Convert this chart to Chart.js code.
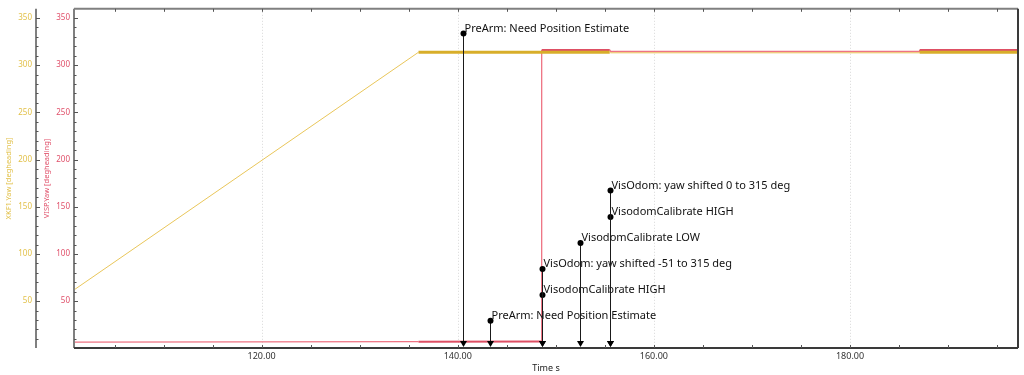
<!DOCTYPE html>
<html>
<head>
<meta charset="utf-8">
<script src="https://cdn.jsdelivr.net/npm/chart.js@4"></script>
<style>
  body { margin: 0; background: #fff; }
  canvas { display: block; }
</style>
</head>
<body>
<canvas id="yawChart" width="1024" height="375"></canvas>
<script>
// XKF1.Yaw samples (time s, deg)
const kfTimes = [100.87, 136.0, 155.5, 155.6, 187.05, 187.1, 197.13];
const kfYaw = [61.9, 313.6, 313.6, 313.0, 313.0, 313.6, 313.6];
// VISP.Yaw samples
const vispTimes = [100.87, 136.0, 148.55, 148.56, 155.5, 155.6, 187.05, 187.1, 197.13];
const vispYaw = [6.7, 7.1, 7.4, 316.0, 316.0, 314.4, 314.4, 316.0, 316.0];
// spans where the logged samples are dense (drawn heavier)
const kfDense = [[136.0, 155.5], [187.1, 197.13]];
const vispDense = [[136.0, 148.55], [148.56, 155.5], [187.1, 197.13]];

// message events
const eventTimes = [140.58, 143.34, 148.55, 148.55, 152.45, 155.5, 155.5];
const eventLevels = [333.4, 29.2, 56.6, 84.1, 111.5, 139.0, 167.3];
const eventTexts = [
  'PreArm: Need Position Estimate',
  'PreArm: Need Position Estimate',
  'VisodomCalibrate HIGH',
  'VisOdom: yaw shifted -51 to 315 deg',
  'VisodomCalibrate LOW',
  'VisodomCalibrate HIGH',
  'VisOdom: yaw shifted 0 to 315 deg'
];

const xRange = [100.87, 197.13];
const yRange = [0.4, 359.6];

const YELLOW = '#e2c14a';
const RED = '#e0506a';
const FONT = "'Noto Sans', 'DejaVu Sans', sans-serif";

function toPoints(xs, ys) {
  return xs.map((t, i) => ({ x: t, y: ys[i] }));
}

function inSpans(c, spans) {
  const a = c.p0.parsed.x, b = c.p1.parsed.x;
  return spans.some(s => a >= s[0] - 1e-6 && b <= s[1] + 1e-6);
}

// grid, frame and tick marks
const frame = {
  id: 'frame',
  beforeDatasetsDraw(chart) {
    const { ctx, chartArea: a, scales } = chart;
    ctx.save();
    ctx.strokeStyle = '#d8d8d8';
    ctx.lineWidth = 1;
    ctx.setLineDash([1, 2]);
    scales.x.ticks.forEach(t => {
      const px = Math.round(scales.x.getPixelForValue(t.value)) + 0.5;
      ctx.beginPath();
      ctx.moveTo(px, a.top);
      ctx.lineTo(px, a.bottom);
      ctx.stroke();
    });
    ctx.restore();
  },
  afterDraw(chart) {
    const { ctx, chartArea: a, scales } = chart;
    const x = scales.x, yk = scales.yKf, yv = scales.yVisp;
    ctx.save();

    // axis lines
    ctx.lineWidth = 2;
    ctx.strokeStyle = '#808080';
    ctx.beginPath();
    ctx.moveTo(yk.right, a.top); ctx.lineTo(yk.right, a.bottom);
    ctx.moveTo(a.left, a.top); ctx.lineTo(a.left, a.bottom);
    ctx.moveTo(a.left, a.top); ctx.lineTo(a.right, a.top);
    ctx.stroke();
    ctx.strokeStyle = '#3a3a3a';
    ctx.beginPath();
    ctx.moveTo(a.right, a.top); ctx.lineTo(a.right, a.bottom);
    ctx.moveTo(a.left, a.bottom); ctx.lineTo(a.right, a.bottom);
    ctx.stroke();

    // y tick marks, pointing inward
    ctx.lineWidth = 1;
    ctx.strokeStyle = '#555';
    for (let v = 10; v < yRange[1]; v += 10) {
      const len = v % 50 === 0 ? 4 : 2.5;
      const py = Math.round(yv.getPixelForValue(v)) + 0.5;
      ctx.beginPath();
      ctx.moveTo(yk.right, py); ctx.lineTo(yk.right + len, py);
      ctx.moveTo(a.left, py); ctx.lineTo(a.left + len, py);
      ctx.stroke();
    }
    // x tick marks on bottom and top
    for (let v = 105; v < xRange[1]; v += 5) {
      const px = Math.round(x.getPixelForValue(v)) + 0.5;
      ctx.beginPath();
      ctx.moveTo(px, a.bottom); ctx.lineTo(px, a.bottom - 3);
      ctx.moveTo(px, a.top); ctx.lineTo(px, a.top + 3);
      ctx.stroke();
    }
    ctx.restore();
  }
};

// message markers: stem from the axis up to a dot, with the text
const events = {
  id: 'events',
  afterDraw(chart) {
    const { ctx, chartArea: a, scales } = chart;
    ctx.save();
    ctx.font = '11px ' + FONT;
    ctx.textBaseline = 'middle';
    eventTimes.forEach((t, i) => {
      const px = Math.round(scales.x.getPixelForValue(t)) + 0.5;
      const py = scales.yVisp.getPixelForValue(eventLevels[i]);
      ctx.strokeStyle = '#1a1a1a';
      ctx.fillStyle = '#000';
      ctx.lineWidth = 1;
      ctx.beginPath();
      ctx.moveTo(px, py);
      ctx.lineTo(px, a.bottom - 2);
      ctx.stroke();
      ctx.beginPath();
      ctx.moveTo(px - 3.5, a.bottom - 7);
      ctx.lineTo(px + 3.5, a.bottom - 7);
      ctx.lineTo(px, a.bottom - 1);
      ctx.closePath();
      ctx.fill();
      ctx.beginPath();
      ctx.arc(px, py, 3, 0, Math.PI * 2);
      ctx.fill();
      ctx.fillStyle = '#111';
      ctx.fillText(eventTexts[i], px + 1, py - 5);
    });
    ctx.restore();
  }
};

const ctx = document.getElementById('yawChart');
const yawChart = new Chart(ctx, {
  type: 'line',
  data: {
    datasets: [
      {
        label: 'XKF1.Yaw',
        data: toPoints(kfTimes, kfYaw),
        yAxisID: 'yKf',
        borderColor: '#e9c65a',
        borderWidth: 1,
        pointRadius: 0,
        tension: 0,
        segment: {
          borderWidth: c => inSpans(c, kfDense) ? 3 : 1,
          borderColor: c => inSpans(c, kfDense) ? '#d8ae2a' : '#e9c65a'
        }
      },
      {
        label: 'VISP.Yaw',
        data: toPoints(vispTimes, vispYaw),
        yAxisID: 'yVisp',
        borderColor: '#ee7383',
        borderWidth: 1.3,
        pointRadius: 0,
        tension: 0,
        segment: {
          borderWidth: c => inSpans(c, vispDense) ? 2 : 1.3,
          borderColor: c => inSpans(c, vispDense) ? '#de4f64' : '#ee7383'
        }
      }
    ]
  },
  options: {
    responsive: false,
    animation: false,
    devicePixelRatio: 1,
    layout: { padding: { top: 8, right: 6, left: 0, bottom: 0 } },
    plugins: {
      legend: { display: false },
      tooltip: { enabled: false }
    },
    scales: {
      x: {
        type: 'linear',
        min: xRange[0],
        max: xRange[1],
        grid: { display: false, drawTicks: false },
        border: { display: false },
        ticks: {
          stepSize: 20,
          includeBounds: false,
          color: '#333',
          font: { size: 9, family: FONT },
          padding: 3,
          maxRotation: 0,
          callback: v => Number(v).toFixed(2)
        },
        title: {
          display: true,
          text: 'Time s',
          color: '#222',
          font: { size: 9, family: FONT },
          padding: { top: 0, bottom: 1.5 }
        },
        afterFit: s => { s.height = 27; }
      },
      yKf: {
        type: 'linear',
        position: 'left',
        weight: 1,
        min: yRange[0],
        max: yRange[1],
        grid: { display: false, drawTicks: false },
        border: { display: false },
        ticks: {
          stepSize: 50,
          includeBounds: false,
          color: YELLOW,
          font: { size: 8, family: FONT },
          padding: 4
        },
        title: {
          display: true,
          text: 'XKF1.Yaw [degheading]',
          color: YELLOW,
          font: { size: 7.5, family: FONT },
          padding: { top: 4, bottom: 0 }
        },
        afterFit: s => { s.width = 36; }
      },
      yVisp: {
        type: 'linear',
        position: 'left',
        weight: 0,
        min: yRange[0],
        max: yRange[1],
        grid: { display: false, drawTicks: false },
        border: { display: false },
        ticks: {
          stepSize: 50,
          includeBounds: false,
          color: RED,
          font: { size: 8, family: FONT },
          padding: 4
        },
        title: {
          display: true,
          text: 'VISP.Yaw [degheading]',
          color: RED,
          font: { size: 7.5, family: FONT },
          padding: { top: 6, bottom: 0 }
        },
        afterFit: s => { s.width = 38; }
      }
    }
  },
  plugins: [frame, events]
});
</script>
</body>
</html>
